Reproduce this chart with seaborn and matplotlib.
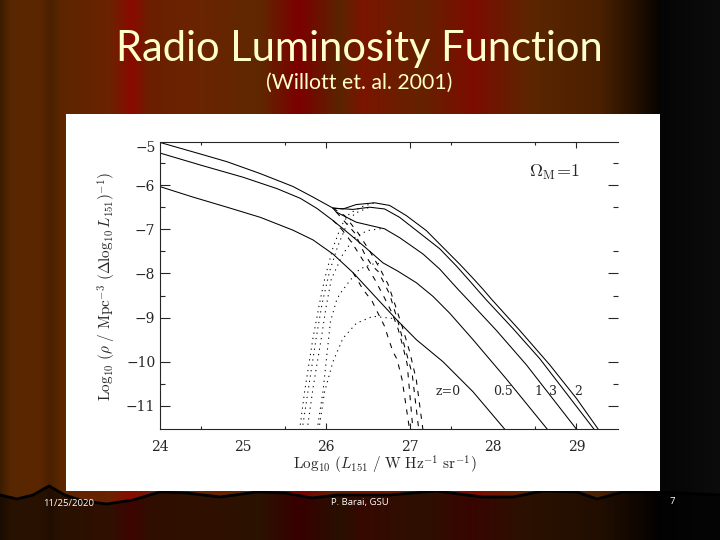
import matplotlib.pyplot as plt
import numpy as np
import seaborn as sns
from matplotlib.colors import LinearSegmentedColormap
from matplotlib.patches import Rectangle

# total luminosity function per redshift
z2_x = [24.00, 24.50, 24.81, 25.21, 25.60, 25.84, 26.08, 26.20, 26.36, 26.58, 26.76, 26.96, 27.20, 27.40, 27.60, 27.76, 27.88, 27.98, 28.32, 28.68, 29.00, 29.27]
z2_y = [-5.03, -5.30, -5.47, -5.74, -6.03, -6.27, -6.52, -6.54, -6.44, -6.40, -6.46, -6.69, -7.03, -7.41, -7.79, -8.11, -8.36, -8.58, -9.29, -10.07, -10.83, -11.55]
z3_x = [26.08, 26.32, 26.52, 26.70, 26.88, 27.11, 27.36, 27.56, 27.72, 27.84, 27.92, 28.24, 28.56, 29.22]
z3_y = [-6.52, -6.55, -6.50, -6.54, -6.73, -7.07, -7.44, -7.83, -8.17, -8.43, -8.60, -9.25, -9.93, -11.55]
z1_x = [26.08, 26.12, 26.36, 26.70, 26.88, 27.16, 27.36, 27.58, 27.70, 28.04, 28.40, 29.01]
z1_y = [-6.52, -6.61, -6.84, -6.99, -7.19, -7.56, -7.90, -8.36, -8.60, -9.29, -10.07, -11.55]
z05_x = [24.00, 24.50, 25.00, 25.41, 25.69, 25.89, 26.08, 26.28, 26.48, 26.68, 26.86, 27.08, 27.28, 27.48, 27.76, 28.16, 28.66]
z05_y = [-5.27, -5.55, -5.82, -6.08, -6.30, -6.53, -6.80, -7.11, -7.43, -7.76, -7.95, -8.21, -8.52, -8.90, -9.50, -10.39, -11.55]
z0_x = [24.00, 24.40, 24.81, 25.21, 25.60, 25.84, 26.08, 26.32, 26.56, 26.84, 27.08, 27.40, 27.76, 28.15]
z0_y = [-6.03, -6.27, -6.50, -6.73, -7.02, -7.24, -7.56, -7.98, -8.47, -9.04, -9.50, -10.00, -10.68, -11.55]

# high luminosity population (dotted)
hi2_x = [25.68, 25.74, 25.84, 25.92, 25.98, 26.08, 26.18, 26.28, 26.44, 26.58]
hi2_y = [-11.55, -10.68, -9.47, -8.67, -8.13, -7.42, -6.92, -6.64, -6.48, -6.40]
hi3_x = [25.71, 25.78, 25.88, 25.95, 26.04, 26.14, 26.24, 26.34, 26.52]
hi3_y = [-11.55, -10.68, -9.45, -8.68, -7.95, -7.37, -6.92, -6.64, -6.50]
hi1_x = [25.77, 25.84, 25.94, 26.00, 26.06, 26.20, 26.34, 26.49, 26.68]
hi1_y = [-11.55, -10.61, -9.47, -8.74, -8.13, -7.56, -7.19, -7.03, -6.98]
hi05_x = [25.89, 25.96, 26.05, 26.12, 26.16, 26.28, 26.40, 26.55, 26.68]
hi05_y = [-11.55, -10.68, -9.09, -8.63, -8.47, -8.17, -7.90, -7.79, -7.76]
hi0_x = [25.91, 25.98, 26.08, 26.20, 26.36, 26.56, 26.80]
hi0_y = [-11.55, -10.68, -10.00, -9.47, -9.13, -8.97, -9.02]

# low luminosity population (dashed)
lo0_x = [26.32, 26.44, 26.55, 26.62, 26.70, 26.75, 26.80, 26.85, 26.91, 27.00]
lo0_y = [-7.98, -8.36, -8.63, -8.90, -9.20, -9.50, -9.77, -9.95, -10.41, -11.55]
lo05_x = [26.08, 26.16, 26.31, 26.46, 26.58, 26.70, 26.79, 26.86, 26.92, 26.97, 27.04]
lo05_y = [-6.80, -6.94, -7.31, -7.76, -8.13, -8.56, -8.90, -9.25, -9.66, -10.05, -11.55]
lo1_x = [26.12, 26.34, 26.46, 26.55, 26.62, 26.70, 26.76, 26.86, 26.94, 27.03, 27.11]
lo1_y = [-6.61, -7.08, -7.56, -7.83, -7.95, -8.24, -8.47, -9.09, -9.66, -10.27, -11.55]
lo2_x = [26.08, 26.22, 26.38, 26.52, 26.64, 26.74, 26.82, 26.91, 27.00, 27.08, 27.16]
lo2_y = [-6.52, -6.69, -7.08, -7.49, -7.88, -8.24, -8.68, -9.20, -9.77, -10.41, -11.55]

x_labels = [24, 25, 26, 27, 28, 29]
y_labels = [-6, -7, -8, -9, -10, -11]
z_names = ["z=0", "0.5", "1", "3", "2"]
z_name_x = [27.46, 28.12, 28.54, 28.72, 29.02]

# curtain backdrop colours
stop_px = [0, 10, 40, 50, 60, 110, 131, 150, 200, 260, 298, 340, 362, 420, 473, 530, 600, 640, 659, 661, 720]
stop_rgb = ["#3a1c00", "#582600", "#5a2600", "#4a2000", "#5c2600", "#6b2200", "#8a0a00", "#6a2000", "#6a2400", "#5f2800",
            "#7c0000", "#5a2400", "#7a1500", "#642200", "#7d0c00", "#5c2600", "#4a2000", "#200e00", "#080400", "#050505", "#0c0c0c"]
hem_x = [0, 17, 33, 49, 65, 83, 107, 133, 160, 187, 220, 257, 285, 312, 337, 390, 436, 482, 513, 543, 577, 597, 623, 660, 720]
hem_y = [495, 499, 495, 486, 495, 501, 504, 500, 492, 493, 497, 492, 493, 498, 495, 495, 491, 497, 497, 491, 492, 499, 492, 492, 495]

sns.set_style("ticks")
plt.rcParams["font.family"] = ["Lato", "DejaVu Sans"]
plt.rcParams["mathtext.fontset"] = "cm"

fig = plt.figure(figsize=(7.2, 5.4), dpi=100)

bg = fig.add_axes([0, 0, 1, 1])
cmap = LinearSegmentedColormap.from_list("curtain", [(p / 720, c) for p, c in zip(stop_px, stop_rgb)], N=720)
bg.imshow(np.linspace(0, 1, 720)[None, :], cmap=cmap, aspect="auto", extent=(0, 720, 540, 0))
bg.fill_between(hem_x, hem_y, 540, color="black", alpha=0.55, lw=0)
bg.plot(hem_x, hem_y, color="black", lw=2)
bg.add_patch(Rectangle((66, 114), 594, 377, color="white", lw=0, zorder=3))
bg.set_xlim(0, 720)
bg.set_ylim(540, 0)
bg.axis("off")

ax = fig.add_axes([159.5 / 720, 110.7 / 540, 458.2 / 720, 287 / 540])
ax.patch.set_alpha(0)

for xs, ys in [(z2_x, z2_y), (z3_x, z3_y), (z1_x, z1_y), (z05_x, z05_y), (z0_x, z0_y)]:
    sns.lineplot(x=xs, y=ys, ax=ax, color="black", lw=0.75, sort=False, estimator=None)
for xs, ys in [(hi2_x, hi2_y), (hi3_x, hi3_y), (hi1_x, hi1_y), (hi05_x, hi05_y), (hi0_x, hi0_y)]:
    sns.lineplot(x=xs, y=ys, ax=ax, color="black", lw=0.75, sort=False, estimator=None, linestyle=(0, (1.2, 4)))
for xs, ys in [(lo0_x, lo0_y), (lo05_x, lo05_y), (lo1_x, lo1_y), (lo2_x, lo2_y)]:
    sns.lineplot(x=xs, y=ys, ax=ax, color="black", lw=0.75, sort=False, estimator=None, linestyle=(0, (5, 6)))

ax.set_xlim(24, 29.495)
ax.set_ylim(-11.53, -5.03)
ax.spines["right"].set_visible(False)
for side in ["left", "top", "bottom"]:
    ax.spines[side].set_linewidth(0.8)

ax.set_xticks(x_labels, labels=[str(v) for v in x_labels], family="DejaVu Serif", fontsize=10)
ax.set_xticks([24.5, 25.5, 27.5, 28.5], minor=True)
ax.set_yticks(y_labels, labels=[f"\u2212{abs(v)}" for v in y_labels], family="DejaVu Serif", fontsize=10)
ax.set_yticks([-5.5, -6.5, -7.5, -8.5, -10.5], minor=True)
ax.tick_params(axis="x", which="major", direction="in", top=True, length=4.6, width=0.8, pad=8)
ax.tick_params(axis="x", which="minor", direction="in", top=True, length=2.4, width=0.8)
ax.tick_params(axis="y", which="major", direction="in", right=True, length=7, width=0.8, pad=3)
ax.tick_params(axis="y", which="minor", direction="in", right=True, length=3.8, width=0.8)

# these ticks are missing on the scanned figure
for tick in ax.xaxis.get_major_ticks():
    if tick.get_loc() in (24, 25, 28):
        tick.tick1line.set_visible(False)
        tick.tick2line.set_visible(False)
for tick in ax.yaxis.get_major_ticks():
    if tick.get_loc() == -7:
        tick.tick2line.set_visible(False)

ax.text(-0.008, 0.98, "\u22125", transform=ax.transAxes, ha="right", va="center", family="DejaVu Serif", fontsize=10)

ax.set_xlabel(r"$\mathrm{Log}_{10}\ (L_{151}\ /\ \mathrm{W\ Hz}^{-1}\ \mathrm{sr}^{-1})$", fontsize=11)
ax.set_ylabel(r"$\mathrm{Log}_{10}\ (\rho\ /\ \mathrm{Mpc}^{-3}\ (\Delta\log_{10}L_{151})^{-1})$", fontsize=11)
ax.xaxis.set_label_coords(0.491, -0.085)
ax.yaxis.set_label_coords(-0.09, 0.496)

ax.text(28.74, -5.71, r"$\Omega_{\mathrm{M}}\!=\!1$", ha="center", va="center", fontsize=13)
for name, xpos in zip(z_names, z_name_x):
    ax.text(xpos, -10.68, name, ha="center", va="center", family="DejaVu Serif", fontsize=9)

fig.text(359 / 720, 1 - 60.7 / 540, "Radio Luminosity Function", color="#ffffcc", fontsize=30, ha="center", va="baseline")
fig.text(359.5 / 720, 1 - 89.3 / 540, "(Willott et. al. 2001)", color="#ffffcc", fontsize=15.3, ha="center", va="baseline")
fig.text(68.5 / 720, 1 - 503 / 540, "11/25/2020", color="white", fontsize=6.8, ha="center", va="center", family="Open Sans")
fig.text(359.5 / 720, 1 - 503 / 540, "P. Barai, GSU", color="white", fontsize=6.8, ha="center", va="center", family="Open Sans")
fig.text(672.5 / 720, 1 - 502 / 540, "7", color="white", fontsize=6.8, ha="center", va="center", family="Open Sans")

fig.savefig("out.png", dpi=100)
